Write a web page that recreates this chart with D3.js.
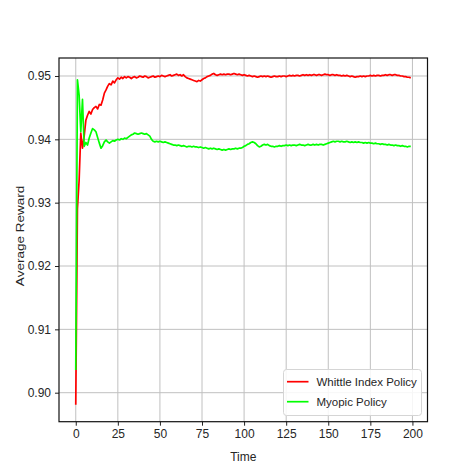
<!DOCTYPE html>
<html>
<head>
<meta charset="utf-8">
<script src="https://cdn.jsdelivr.net/npm/d3@7"></script>
<style>
  body { margin: 0; background: #fff; }
  text { font-family: "Liberation Sans", Arial, sans-serif; fill: #262626; }
</style>
</head>
<body>
<div id="viz"></div>
<script>
// data
const whittle = [
  .8981, .9290, .9335, .9410, .9386, .9405, .9430, .9438, .9444, .9440,
  .9447, .9450, .9452, .9448, .9455, .9454, .9462, .9473, .9478, .9484,
  .9488, .9486, .9492, .9489, .9494, .9497, .9495, .9498, .9496, .9499,
  .9497, .9499, .9498, .9496, .9498, .9499, .9497, .9498, .9500, .9499,
  .9498, .9500, .9499, .9497, .9498, .9499, .9500, .9498, .9499, .9500,
  .9499, .9501, .9500, .9499, .9500, .9501, .9502, .9500, .9501, .9502,
  .9503, .9501, .9502, .9500, .9502, .9499, .9497, .9496, .9495, .9494,
  .9493, .9492, .9491, .9493, .9492, .9494, .9496, .9497, .9499, .9500,
  .9501, .9503, .9504, .9502, .9501, .9502, .9503, .9502, .9503, .9502,
  .9503, .9503, .9502, .9503, .9504, .9503, .9502, .9503, .9502, .9501,
  .9502, .9501, .9500, .9501, .9500, .9499, .9500, .9499, .9498, .9499,
  .9500, .9499, .9500, .9499, .9500, .9499, .9498, .9499, .9500, .9499,
  .9499, .9500, .9499, .9500, .9500, .9499, .9500, .9501, .9500, .9501,
  .9500, .9501, .9501, .9500, .9501, .9502, .9501, .9502, .9501, .9502,
  .9501, .9502, .9502, .9501, .9502, .9502, .9501, .9502, .9503, .9502,
  .9502, .9501, .9502, .9502, .9501, .9502, .9501, .9501, .9500, .9501,
  .9500, .9501, .9500, .9499, .9500, .9499, .9498, .9499, .9499, .9500,
  .9499, .9500, .9499, .9500, .9500, .9501, .9500, .9501, .9500, .9501,
  .9501, .9500, .9501, .9501, .9502, .9501, .9502, .9502, .9501, .9502,
  .9502, .9501, .9501, .9500, .9500, .9499, .9499, .9498, .9498, .9497
];
const myopic = [
  .9036, .9494, .9470, .9412, .9463, .9389, .9395, .9391, .9402, .9410,
  .9417, .9415, .9412, .9403, .9394, .9386, .9390, .9396, .9399, .9396,
  .9394, .9396, .9398, .9397, .9399, .9400, .9399, .9401, .9400, .9402,
  .9401, .9403, .9405, .9407, .9408, .9410, .9409, .9408, .9409, .9410,
  .9409, .9408, .9409, .9407, .9405, .9400, .9397, .9396, .9397, .9396,
  .9397, .9396, .9395, .9396, .9395, .9394, .9393, .9392, .9391, .9391,
  .9390, .9391, .9390, .9389, .9390, .9389, .9388, .9389, .9389, .9388,
  .9389, .9388, .9388, .9387, .9388, .9387, .9386, .9387, .9386, .9385,
  .9386, .9385, .9386, .9385, .9384, .9385, .9384, .9383, .9384, .9383,
  .9384, .9385, .9384, .9385, .9385, .9386, .9385, .9386, .9386, .9387,
  .9389, .9390, .9392, .9393, .9395, .9396, .9395, .9393, .9390, .9388,
  .9389, .9391, .9392, .9391, .9392, .9390, .9389, .9389, .9388, .9389,
  .9389, .9390, .9389, .9390, .9390, .9391, .9390, .9391, .9390, .9391,
  .9391, .9390, .9391, .9392, .9391, .9391, .9390, .9391, .9392, .9391,
  .9391, .9392, .9391, .9392, .9391, .9392, .9392, .9391, .9392, .9393,
  .9394, .9395, .9396, .9397, .9396, .9397, .9397, .9396, .9397, .9396,
  .9396, .9397, .9396, .9395, .9396, .9395, .9396, .9395, .9396, .9395,
  .9395, .9394, .9395, .9394, .9395, .9394, .9394, .9393, .9394, .9393,
  .9393, .9392, .9393, .9392, .9392, .9391, .9392, .9391, .9391, .9390,
  .9391, .9390, .9390, .9389, .9390, .9389, .9389, .9388, .9389, .9389
];
const seriesNames = ["Whittle Index Policy", "Myopic Policy"];
const seriesColors = ["#ff0000", "#00ff00"];
const xTicks = [0, 25, 50, 75, 100, 125, 150, 175, 200];
const yTicks = [0.90, 0.91, 0.92, 0.93, 0.94, 0.95];

const W = 474, H = 474;
const M = { left: 59, right: 427.5, top: 58, bottom: 421.7 };

const svg = d3.select("#viz").append("svg")
    .attr("width", W)
    .attr("height", H);

const x = d3.scaleLinear().domain([-9.95, 208.95]).range([M.left, M.right]);
const y = d3.scaleLinear().domain([0.89542, 0.95284]).range([M.bottom, M.top]);

// grid
svg.append("g").selectAll("line").data(xTicks).enter().append("line")
    .attr("x1", d => x(d)).attr("x2", d => x(d))
    .attr("y1", M.top).attr("y2", M.bottom)
    .attr("stroke", "#c0c0c0").attr("stroke-width", 1);
svg.append("g").selectAll("line").data(yTicks).enter().append("line")
    .attr("x1", M.left).attr("x2", M.right)
    .attr("y1", d => y(d)).attr("y2", d => y(d))
    .attr("stroke", "#c0c0c0").attr("stroke-width", 1);

// lines
const line = d3.line().x((d, i) => x(i)).y(d => y(d));
[whittle, myopic].forEach((s, k) => {
    svg.append("path")
        .datum(s)
        .attr("d", line)
        .attr("fill", "none")
        .attr("stroke", seriesColors[k])
        .attr("stroke-width", 1.7)
        .attr("stroke-linejoin", "round");
});

// axes
const xAxis = svg.append("g")
    .attr("transform", `translate(0,${M.bottom})`)
    .call(d3.axisBottom(x).tickValues(xTicks).tickSize(4).tickPadding(4).tickFormat(d3.format("d")));
const yAxis = svg.append("g")
    .attr("transform", `translate(${M.left},0)`)
    .call(d3.axisLeft(y).tickValues(yTicks).tickSize(4).tickPadding(4).tickFormat(d3.format(".2f")));
[xAxis, yAxis].forEach(a => {
    a.select(".domain").remove();
    a.selectAll("line").attr("stroke", "#222");
    a.selectAll("text").attr("font-size", 12).attr("fill", "#262626")
        .style("font-family", "'Liberation Sans', Arial, sans-serif");
});

// frame
svg.append("rect")
    .attr("x", M.left).attr("y", M.top)
    .attr("width", M.right - M.left).attr("height", M.bottom - M.top)
    .attr("fill", "none").attr("stroke", "#111").attr("stroke-width", 1.2);

// labels
svg.append("text")
    .attr("x", (M.left + M.right) / 2).attr("y", 461)
    .attr("text-anchor", "middle").attr("font-size", 12)
    .text("Time");
svg.append("text")
    .attr("transform", "translate(23.5,236) rotate(-90) scale(1,0.8)")
    .attr("text-anchor", "middle").attr("font-size", 13.5)
    .text("Average Reward");

// legend
const lg = svg.append("g");
lg.append("rect")
    .attr("x", 283.5).attr("y", 369.5).attr("width", 138).attr("height", 46).attr("rx", 3)
    .attr("fill", "#fff").attr("fill-opacity", 0.85)
    .attr("stroke", "#d5d5d5").attr("stroke-width", 1);
seriesNames.forEach((n, k) => {
    const yy = 381.7 + k * 20;
    lg.append("line")
        .attr("x1", 287).attr("x2", 308.5).attr("y1", yy).attr("y2", yy)
        .attr("stroke", seriesColors[k]).attr("stroke-width", 1.7);
    lg.append("text")
        .attr("x", 316.5).attr("y", yy).attr("dy", "0.35em")
        .attr("font-size", 11.5)
        .text(n);
});
</script>
</body>
</html>
